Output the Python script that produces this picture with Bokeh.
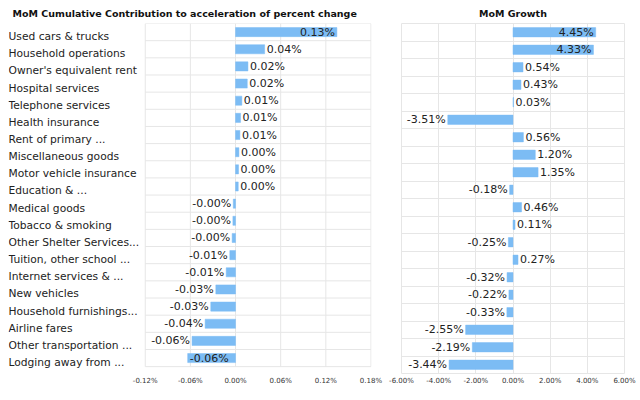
from bokeh.plotting import figure
from bokeh.layouts import row
from bokeh.models import ColumnDataSource, FixedTicker, PrintfTickFormatter, Range1d, LabelSet
from bokeh.core.properties import value
from bokeh.embed import file_html
from bokeh.resources import INLINE

# 数据（按贡献度从高到低排列）
categories = [
    "Used cars & trucks", "Household operations", "Owner's equivalent rent",
    "Hospital services", "Telephone services", "Health insurance",
    "Rent of primary ...", "Miscellaneous goods", "Motor vehicle insurance",
    "Education & ...", "Medical goods", "Tobacco & smoking",
    "Other Shelter Services...", "Tuition, other school ...", "Internet services & ...",
    "New vehicles", "Household furnishings...", "Airline fares",
    "Other transportation ...", "Lodging away from ...",
]
contribution = [0.1347, 0.0387, 0.0165, 0.0156, 0.0084, 0.0067, 0.0058, 0.0045, 0.0040, 0.0036,
                -0.0030, -0.0035, -0.0045, -0.0076, -0.0124, -0.0262, -0.0329, -0.0404, -0.0578, -0.0636]
growth = [4.45, 4.33, 0.54, 0.43, 0.03, -3.51, 0.56, 1.20, 1.35, -0.18,
          0.46, 0.11, -0.25, 0.27, -0.32, -0.22, -0.33, -2.55, -2.19, -3.44]

left_ticks = [-0.12, -0.06, 0.0, 0.06, 0.12, 0.18]
right_ticks = [-6, -4, -2, 0, 2, 4, 6]

FONT = "DejaVu Sans"
BAR = "#7cbcf4"
GRID = "#e6e6e6"
N = len(categories)
rows = [i + 0.5 for i in range(N)]


def label_sources(values, cut):
    # 数值标签：超过 cut 的放在柱内，其余放在柱外
    left = {"x": [], "y": [], "t": []}
    right = {"x": [], "y": [], "t": []}
    for v, y in zip(values, rows):
        inside = abs(v) > cut
        d = left if (v >= 0) != inside else right
        d["x"].append(v)
        d["y"].append(y)
        d["t"].append(f"{v:.2f}%")
    return ColumnDataSource(left), ColumnDataSource(right)


def style(p, ticks, title):
    p.title.text = title
    p.title.text_font = FONT
    p.title.text_font_size = "9.5px"
    p.title.text_font_style = "bold"
    p.title.text_color = "#111111"
    p.title.standoff = 10
    p.yaxis.visible = False
    p.xaxis.ticker = FixedTicker(ticks=ticks)
    p.xaxis.formatter = PrintfTickFormatter(format="%.2f%%")
    p.xaxis.axis_line_color = None
    p.xaxis.major_tick_line_color = None
    p.xaxis.minor_tick_line_color = None
    p.xaxis.major_tick_out = 0
    p.xaxis.major_label_text_font = FONT
    p.xaxis.major_label_text_font_size = "7px"
    p.xaxis.major_label_text_color = "#333333"
    p.xaxis.major_label_standoff = 3
    p.xgrid.ticker = FixedTicker(ticks=ticks)
    p.xgrid.grid_line_color = GRID


def bars_and_labels(p, values, cut):
    src = ColumnDataSource(dict(y=rows, v=values))
    p.hbar(y="y", left=0, right="v", height=0.53, source=src,
           fill_color=BAR, line_color=BAR, line_width=0.5)
    ls, rs = label_sources(values, cut)
    p.text(x="x", y="y", text="t", source=ls, x_offset=2, text_align="left",
           text_baseline="middle", text_font=value(FONT), text_font_size="11px", text_color="#222222")
    p.text(x="x", y="y", text="t", source=rs, x_offset=-2, text_align="right",
           text_baseline="middle", text_font=value(FONT), text_font_size="11px", text_color="#222222")


# 左图：类别标签画在绘图区左侧，绘图区向下多留一点给最后一行标签
EXTRA = 0.4
x_start = left_ticks[0] - (136.3 / 45.0) * 0.06
p1 = figure(width=385, height=393, x_range=Range1d(x_start, 0.1807), y_range=Range1d(N + EXTRA, 0),
            output_backend="svg", toolbar_location=None,
            min_border_left=8, min_border_right=14, min_border_top=23, min_border_bottom=13)
style(p1, left_ticks, "MoM Cumulative Contribution to acceleration of percent change")
p1.title.align = "left"
p1.title.offset = 4
p1.outline_line_color = None
p1.xgrid.visible = False
p1.ygrid.visible = False
p1.segment(x0=left_ticks[0], x1=left_ticks[-1], y0=list(range(N + 1)), y1=list(range(N + 1)),
           line_color=GRID, line_width=1)
p1.segment(x0=left_ticks, x1=left_ticks, y0=0, y1=N, line_color=GRID, line_width=1)
bars_and_labels(p1, contribution, 0.06)
cat_src = ColumnDataSource(dict(x=[x_start] * N, y=rows, t=categories))
p1.add_layout(LabelSet(x="x", y="y", text="t", source=cat_src, y_offset=-4.5,
                       text_align="left", text_baseline="middle", text_font=value(FONT),
                       text_font_size="10.7px", text_color="#222222"))

# 右图：环比增长
p2 = figure(width=255, height=393, x_range=Range1d(right_ticks[0], right_ticks[-1]), y_range=Range1d(N, 0),
            output_backend="svg", toolbar_location=None,
            min_border_left=16, min_border_right=16, min_border_top=23, min_border_bottom=20)
style(p2, right_ticks, "MoM Growth")
p2.title.align = "center"
p2.outline_line_color = GRID
p2.ygrid.ticker = FixedTicker(ticks=list(range(N + 1)))
p2.ygrid.grid_line_color = GRID
bars_and_labels(p2, growth, 4.0)

layout = row(p1, p2)
open("out.html", "w").write(file_html(layout, INLINE))
